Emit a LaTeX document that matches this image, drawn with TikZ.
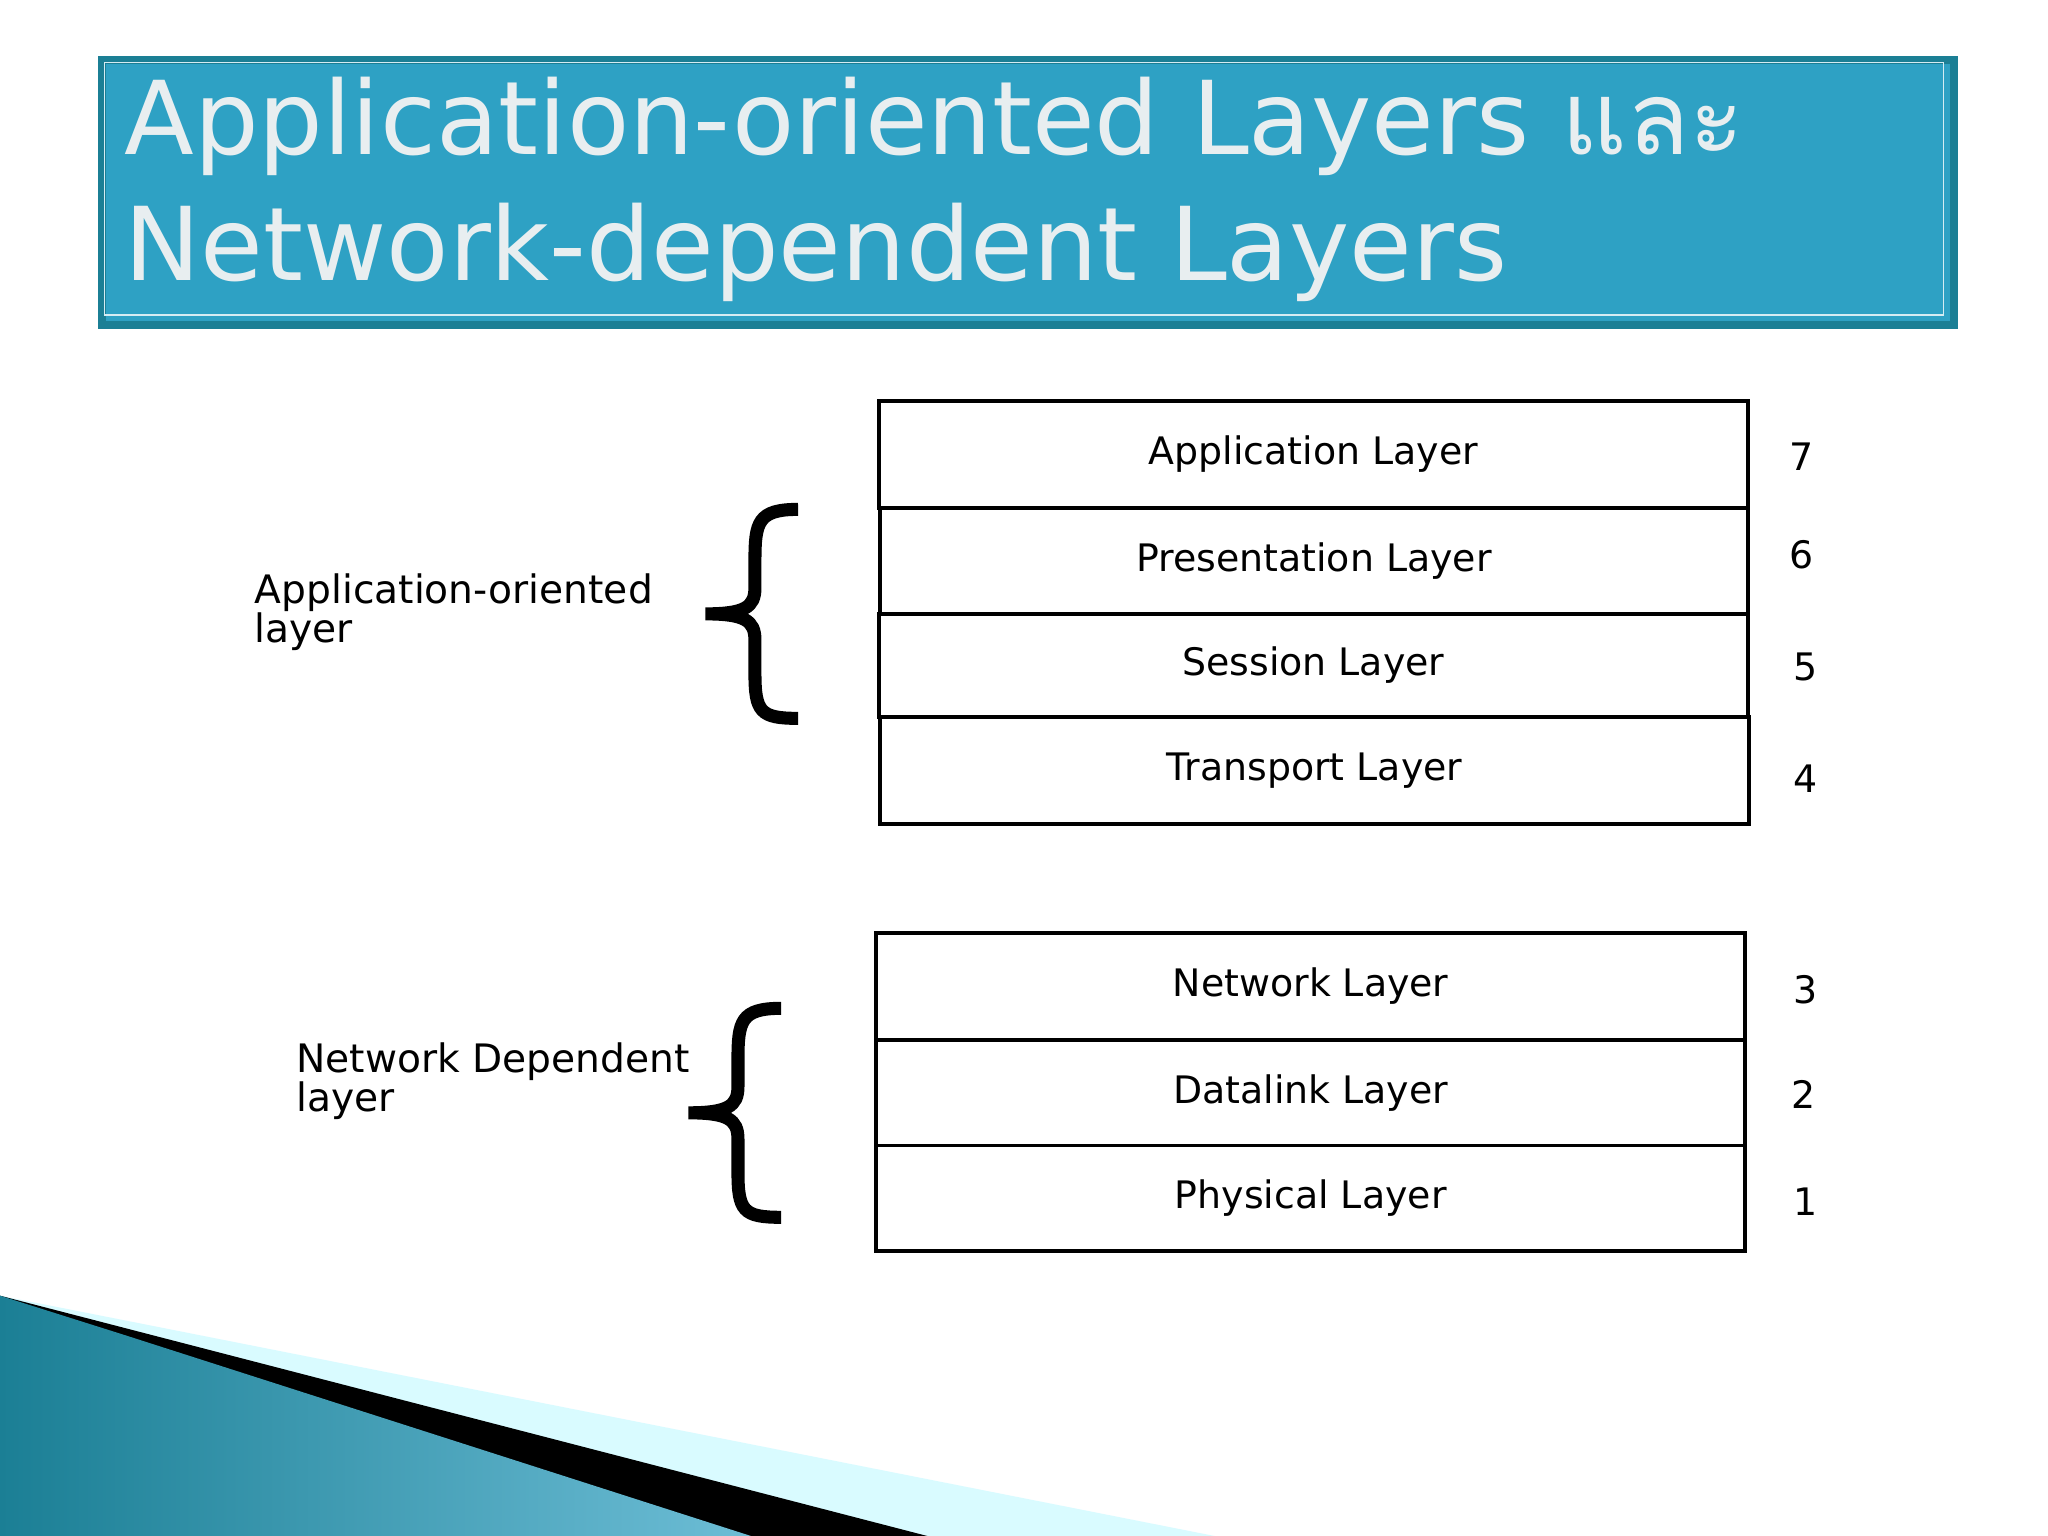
\documentclass[tikz,border=0pt]{standalone}
\usepackage{fontspec}
\setmainfont{DejaVu Sans}
\newfontfamily\thaifont[Script=Thai]{Loma}
\definecolor{teal1}{HTML}{2EA1C4}
\definecolor{teal2}{HTML}{1B7F95}
\definecolor{ttxt}{HTML}{E8EEF0}
\tikzset{x=0.5pt,y=-0.5pt,
 layer/.style={draw=black,line width=1.5pt,fill=white,minimum width=332.5pt,minimum height=40.5pt,inner sep=0pt,font=\fontsize{14.5}{16}\selectfont},
 num/.style={font=\fontsize{14.5}{16}\selectfont},
 lbl/.style={font=\fontsize{15}{18}\selectfont,align=left,anchor=north west},
 brace/.style={line width=5pt,line cap=butt}}
\begin{document}
\begin{tikzpicture}
\useasboundingbox (0,0) rectangle (1568,1176);
\fill[white] (0,0) rectangle (1568,1176);
% title
\node[draw=teal2,line width=3pt,fill=teal1,minimum width=709pt,minimum height=101.5pt,anchor=north west,inner sep=0pt] (title) at (75,43) {};
\draw[white!80!teal1,line width=0.6pt] (80,48) rectangle (1488,241);
\node[anchor=base west,text=ttxt,font=\fontsize{39}{46}\selectfont,inner sep=0pt] (t1) at (95,118) {Application-oriented Layers {\thaifont และ}};
\node[anchor=base west,text=ttxt,font=\fontsize{39}{46}\selectfont,inner sep=0pt] (t2) at (95,215) {Network-dependent Layers};
% layers
\node[layer,minimum height=41pt] (l7) at (1005.5,348) {Application Layer};
\node[layer] (l6) at (1006,429.5) {Presentation Layer};
\node[layer,minimum height=39.5pt] (l5) at (1005.5,509.5) {Session Layer};
\node[layer,minimum height=41pt] (l4) at (1006.5,590) {Transport Layer};
\node[layer,minimum height=41pt] (l3) at (1003.5,755) {Network Layer};
\node[layer] (l2) at (1003.5,836.5) {Datalink Layer};
\node[layer] (l1) at (1003.5,917.5) {Physical Layer};
\node[num] (n7) at (1379,350) {7};
\node[num] (n6) at (1379,425) {6};
\node[num] (n5) at (1382,511) {5};
\node[num] (n4) at (1382,596) {4};
\node[num] (n3) at (1382,758) {3};
\node[num] (n2) at (1381,838) {2};
\node[num] (n1) at (1382,920) {1};
% labels
\node[lbl] (a) at (188,432) {Application-oriented\\[-3pt]layer};
\node[lbl] (b) at (220,791) {Network Dependent\\[-3pt]layer};
% braces
\draw[brace] (611,390) .. controls (580,390) and (578,400) .. (578,430) -- (578,450) .. controls (578,465) and (570,470) .. (540,470)
 .. controls (570,470) and (578,475) .. (578,490) -- (578,515) .. controls (578,545) and (582,550) .. (611,550);
\draw[brace] (598,772) .. controls (567,772) and (565,782) .. (565,812) -- (565,832) .. controls (565,847) and (557,852) .. (527,852)
 .. controls (557,852) and (565,857) .. (565,872) -- (565,897) .. controls (565,927) and (569,932) .. (598,932);
% swoosh
\fill[blue!10!cyan!15] (0,992) -- (930,1176) -- (0,1176) -- cycle;
\fill[black] (0,992) -- (710,1176) -- (0,1176) -- cycle;
\shade[left color=teal2,right color=teal1!70] (0,992) -- (95,1022) -- (575,1176) -- (0,1176) -- cycle;
\end{tikzpicture}
\end{document}
